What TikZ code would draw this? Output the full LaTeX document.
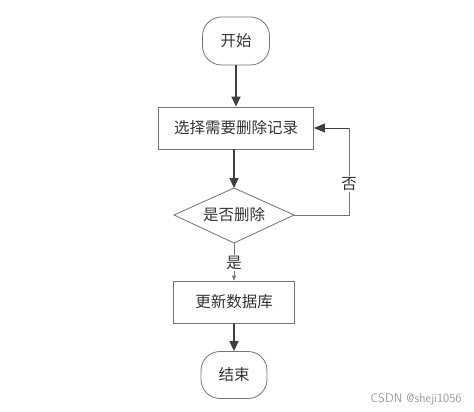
\documentclass[tikz,border=0pt]{standalone}
\usepackage{fontspec}
\newfontfamily\cjk{Noto Sans CJK SC}
\usetikzlibrary{arrows.meta}
\begin{document}
\begin{tikzpicture}[x=1pt,y=-1pt,
  every node/.style={font=\cjk\fontsize{15.5}{15.5}\selectfont, text=black!80},
  term/.style={draw=black!55, line width=0.8pt, rounded corners=19pt, minimum width=67pt, minimum height=48pt, inner sep=0pt},
  proc/.style={draw=black!55, line width=0.8pt, minimum height=42pt, inner sep=0pt},
  flow/.style={draw=black!75, line width=1.5pt, -{Triangle[length=10pt,width=9pt]}}]
\useasboundingbox (0,0) rectangle (474,412);
\node[term] (start) at (236,41) {开始};
\node[proc, minimum width=155pt] (sel) at (236,128) {选择需要删除记录};
\coordinate (dt) at (234,188);
\coordinate (db) at (234,243);
\coordinate (dl) at (174,215);
\coordinate (dr) at (294,215);
\draw[draw=black!55, line width=0.8pt] (dt) -- (dr) -- (db) -- (dl) -- cycle;
\node (dec) at (234,215) {是否删除};
\node[proc, minimum width=121pt] (upd) at (234,302) {更新数据库};
\node[term, minimum width=66pt, minimum height=47pt] (end) at (234,375) {结束};
\coordinate (c1) at (349,215);
\coordinate (c2) at (349,128);
\draw[flow] (sel.south -| dt) -- (dt);
\draw[flow] (start.south) -- (sel.north);
\draw[draw=black!55, line width=0.8pt] (dr) -- (c1) -- (c2);
\draw[draw=black!75, line width=0.8pt, -{Triangle[length=11pt,width=9pt]}] (c2) -- (sel.east);
\node[fill=white, inner sep=1pt] (no) at (349,184) {否};
\draw[draw=black!55, line width=0.8pt, -{Triangle[length=5pt,width=4pt]}] (db) -- (upd.north);
\node[fill=white, inner sep=1pt] (yes) at (234,263) {是};
\draw[flow] (upd.south) -- (end.north);
\node[font=\fontsize{12.5}{12.5}\selectfont\sffamily, text=black!40] (wm) at (416,399) {CSDN @sheji1056};
\end{tikzpicture}
\end{document}
